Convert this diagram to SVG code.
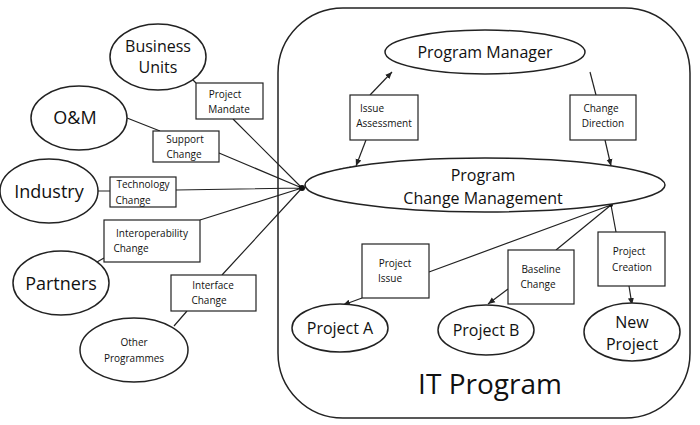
<svg xmlns="http://www.w3.org/2000/svg" width="700" height="425" viewBox="0 0 700 425">
<defs>
<style>
.n{fill:#fff;stroke:#222;stroke-width:1.5}
.b{fill:#fff;stroke:#222;stroke-width:1.2}
.l{stroke:#222;stroke-width:1.2;fill:none}
.d{stroke:#888;stroke-width:1.2;fill:none;stroke-dasharray:2 1.5}
text{font-family:"Open Sans","Liberation Sans",sans-serif;fill:#111;text-anchor:middle}
.t{font-size:16px}
.s{font-size:10px}
</style>
<marker id="a" markerWidth="8" markerHeight="8" refX="7" refY="4" orient="auto" markerUnits="userSpaceOnUse"><path d="M0,1 L7,4 L0,7z" fill="#222"/></marker>
</defs>
<rect x="278" y="8" width="412" height="410" rx="65" class="n"/>
<text x="490" y="394" style="font-size:28px">IT Program</text>
<g id="connectors">
<path class="l" d="M193,80 L196,83 M233,119 L302,188 M127,118 L160,131 M219,153 L302,188 M98,191 L110,191 M176,190 L302,188 M97,262 L104,258 M200,220 L302,188 M174,326 L187,311 M222,275 L302,188"/>
<path class="d" d="M302,188 Q320,172 355,166"/>
<path class="l" d="M370,95 L392,72" marker-end="url(#a)"/>
<path class="l" d="M366,140 L356,166" marker-end="url(#a)"/>
<path class="l" d="M590,72 L596,95"/>
<path class="l" d="M605,140 L611,166" marker-end="url(#a)"/>
<path class="d" d="M611,170 L611,205"/>
<path class="l" d="M611,205 L429,272 M611,205 L556,250 M611,205 L616,232"/>
<path class="l" d="M362,298 L343,305" marker-end="url(#a)"/>
<path class="l" d="M508,289 L488,304" marker-end="url(#a)"/>
<path class="l" d="M629,286 L632,305" marker-end="url(#a)"/>
<circle cx="302" cy="188" r="3" fill="#111"/>
<circle cx="611" cy="205" r="2" fill="#111"/>
</g>
<g id="bu"><ellipse cx="158" cy="57" rx="48" ry="33" class="n"/><text class="t" x="158" y="52">Business</text><text class="t" x="158" y="73">Units</text></g>
<g id="om"><ellipse cx="79" cy="118" rx="48" ry="32" class="n"/><text class="t" x="75" y="124" style="font-size:18px">O&amp;M</text></g>
<g id="ind"><ellipse cx="49" cy="191" rx="49" ry="32" class="n"/><text class="t" x="49" y="198" style="font-size:18px">Industry</text></g>
<g id="par"><ellipse cx="61" cy="283" rx="48" ry="32" class="n"/><text class="t" x="61" y="290" style="font-size:18px">Partners</text></g>
<g id="op"><ellipse cx="134" cy="350" rx="54" ry="32" class="n"/><text class="s" x="134" y="346">Other</text><text class="s" x="134" y="362">Programmes</text></g>
<g id="pm"><rect x="196" y="83" width="67" height="36" class="b"/><text class="s" x="225" y="98">Project</text><text class="s" x="229" y="113">Mandate</text></g>
<g id="sc"><rect x="153" y="131" width="66" height="31" class="b"/><text class="s" x="185" y="143">Support</text><text class="s" x="184" y="158">Change</text></g>
<g id="tc"><rect x="110" y="177" width="66" height="30" class="b"/><text class="s" x="143" y="188">Technology</text><text class="s" x="133" y="204">Change</text></g>
<g id="ic"><rect x="104" y="220" width="96" height="42" class="b"/><text class="s" x="152" y="237">Interoperability</text><text class="s" x="131" y="252">Change</text></g>
<g id="ifc"><rect x="171" y="275" width="85" height="36" class="b"/><text class="s" x="213" y="289">Interface</text><text class="s" x="209" y="304">Change</text></g>
<g id="pmgr"><ellipse cx="485" cy="52" rx="100" ry="22" class="n"/><text class="t" x="485" y="58">Program Manager</text></g>
<g id="pcm"><ellipse cx="485" cy="185" rx="180" ry="27" class="n"/><text class="t" x="483" y="181">Program</text><text class="t" x="483" y="204">Change Management</text></g>
<g id="ia"><rect x="350" y="95" width="68" height="45" class="b"/><text class="s" x="372" y="112">Issue</text><text class="s" x="384" y="127">Assessment</text></g>
<g id="cd"><rect x="570" y="95" width="66" height="45" class="b"/><text class="s" x="601" y="112">Change</text><text class="s" x="603" y="127">Direction</text></g>
<g id="pi"><rect x="362" y="244" width="67" height="54" class="b"/><text class="s" x="395" y="267">Project</text><text class="s" x="390" y="282">Issue</text></g>
<g id="bc"><rect x="508" y="250" width="66" height="54" class="b"/><text class="s" x="541" y="273">Baseline</text><text class="s" x="538" y="288">Change</text></g>
<g id="pc"><rect x="598" y="232" width="67" height="54" class="b"/><text class="s" x="629" y="255">Project</text><text class="s" x="632" y="271">Creation</text></g>
<g id="pa"><ellipse cx="340" cy="328" rx="48" ry="24" class="n"/><text class="t" x="340" y="334">Project A</text></g>
<g id="pb"><ellipse cx="486" cy="330" rx="48" ry="25" class="n"/><text class="t" x="486" y="336">Project B</text></g>
<g id="np"><ellipse cx="632" cy="332" rx="48" ry="29" class="n"/><text class="t" x="632" y="328">New</text><text class="t" x="632" y="350">Project</text></g>
</svg>
